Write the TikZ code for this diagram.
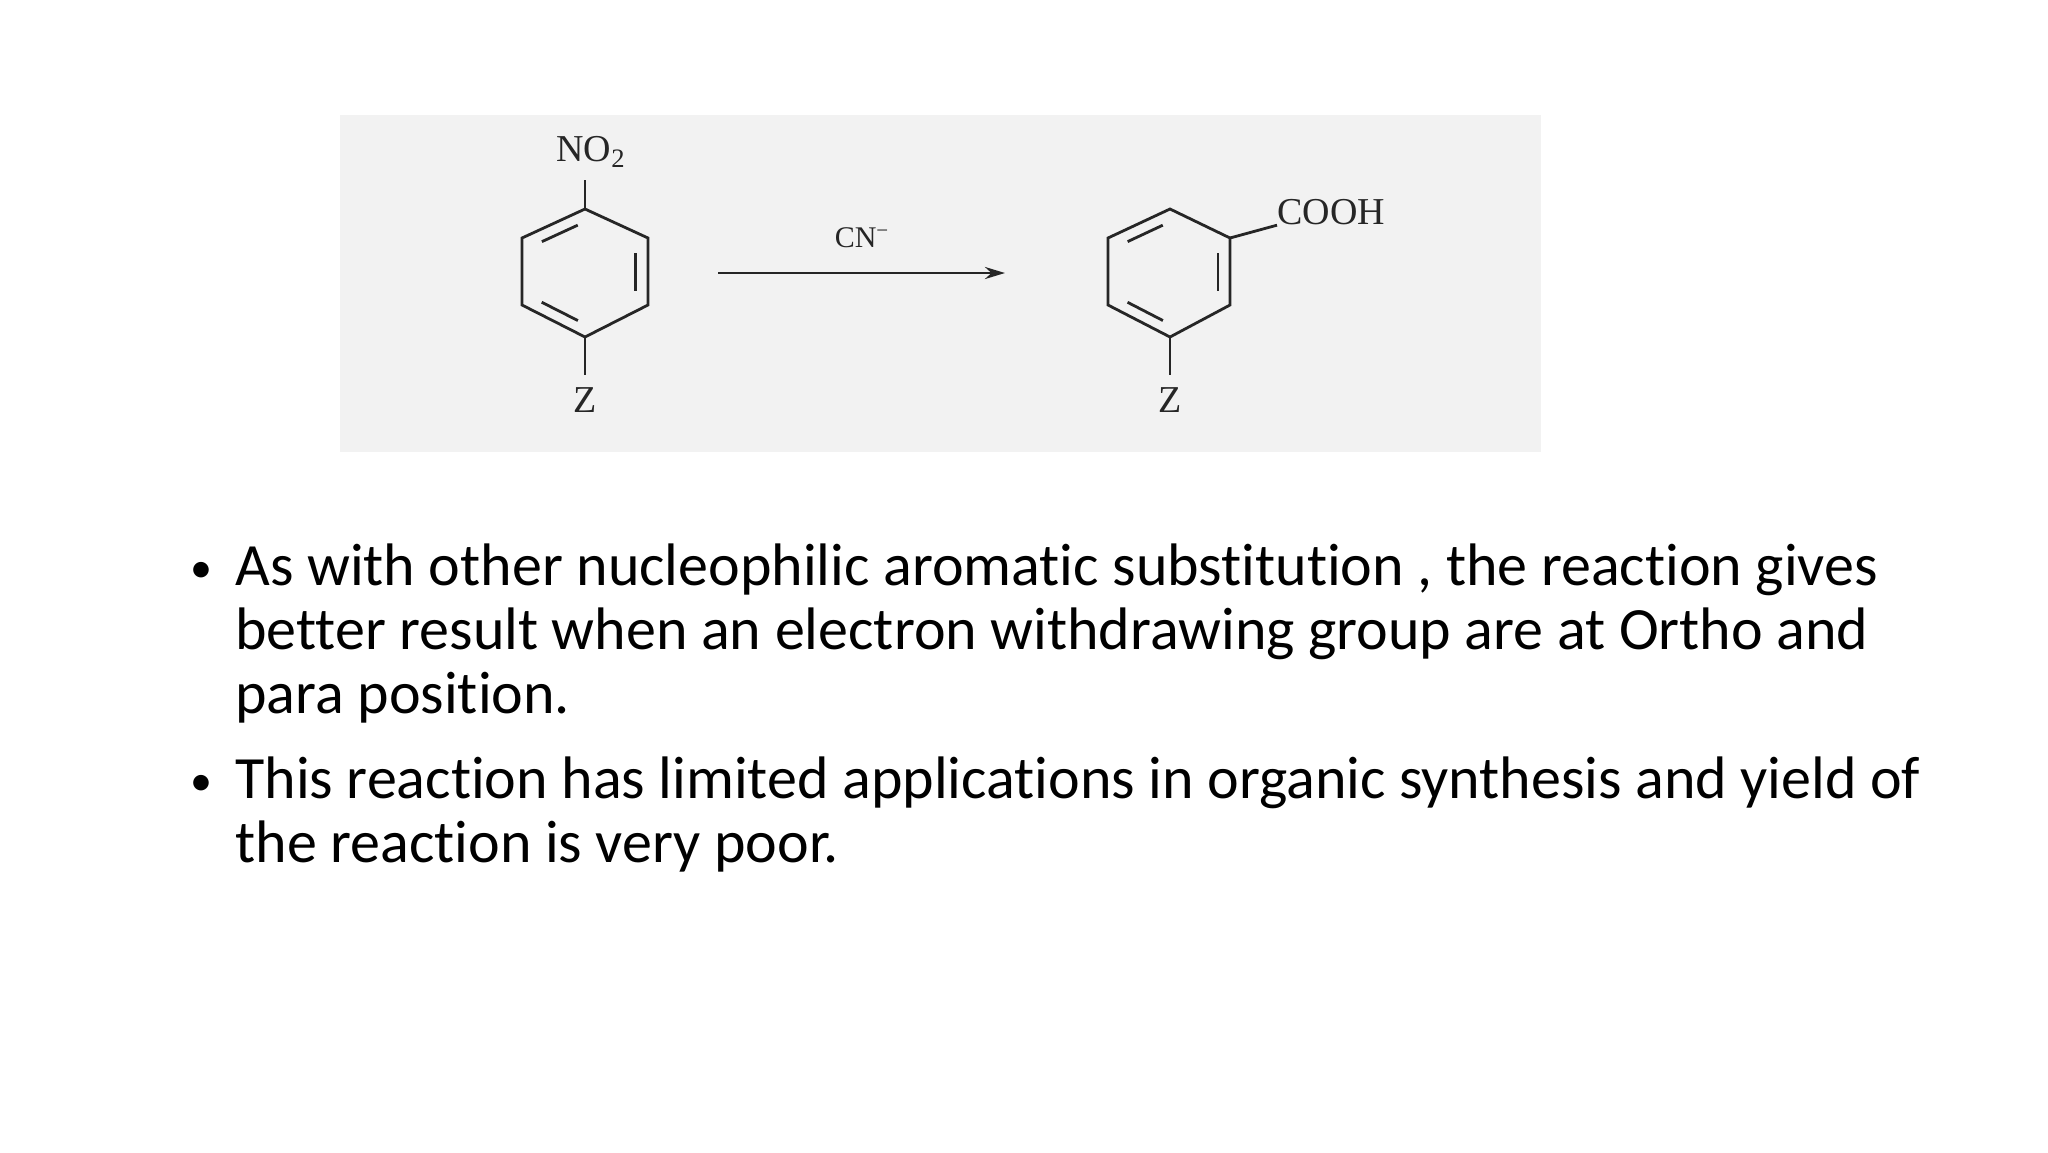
\documentclass[tikz,border=0pt]{standalone}
\usepackage{fontspec}
\setmainfont{Liberation Serif}
\newfontfamily\bodyfont[Ligatures={NoCommon}]{Carlito}
\usetikzlibrary{calc,arrows.meta}
\begin{document}
\begin{tikzpicture}[x=0.5pt,y=-0.5pt,
  bond/.style={line width=1.4pt,black!85},
  chem/.style={font=\fontsize{19}{19}\selectfont,text=black!85,inner sep=0pt},
  txt/.style={font=\bodyfont\fontsize{30}{30}\selectfont,anchor=base west,inner sep=0pt}]
\useasboundingbox[fill=white] (0,0) rectangle (2048,1152);
\fill[black!5] (340,115) rectangle (1541,452);
% left ring
\foreach \n/\x/\y in {a1/585/209,a2/648/238,a3/648/305,a4/585/337,a5/522/305,a6/522/238}{\coordinate (\n) at (\x,\y);}
\coordinate (ac) at (585,273);
\draw[bond] (a1)--(a2)--(a3)--(a4)--(a5)--(a6)--cycle;
\foreach \p/\q in {a6/a1,a2/a3,a4/a5}{
  \draw[bond,shorten <=4pt,shorten >=4pt] ($(ac)!0.8!(\p)$)--($(ac)!0.8!(\q)$);}
\coordinate (an) at (585,180);
\coordinate (az) at (585,375);
\draw[bond] (a1)--(an);
\draw[bond] (a4)--(az);
\node[chem,anchor=south] (no2) at (591,168) {NO\textsubscript{2}};
\node[chem] (z1) at (585,400) {Z};
% arrow
\coordinate (r1) at (718,273);
\coordinate (r2) at (1005,273);
\draw[bond,-{Stealth[length=10pt,width=6pt]}] (r1)--(r2);
\node[chem,font=\fontsize{15}{15}\selectfont] (cn) at (862,238) {CN\textsuperscript{−}};
% right ring
\foreach \n/\x/\y in {b1/1170/209,b2/1230/238,b3/1230/305,b4/1170/337,b5/1108/305,b6/1108/238}{\coordinate (\n) at (\x,\y);}
\coordinate (bc) at (1170,273);
\draw[bond] (b1)--(b2)--(b3)--(b4)--(b5)--(b6)--cycle;
\foreach \p/\q in {b6/b1,b2/b3,b4/b5}{
  \draw[bond,shorten <=4pt,shorten >=4pt] ($(bc)!0.8!(\p)$)--($(bc)!0.8!(\q)$);}
\coordinate (bz) at (1170,375);
\draw[bond] (b4)--(bz);
\node[chem,anchor=west] (cooh) at (1277,212) {COOH};
\draw[bond] (b2)--(cooh.south west);
\node[chem] (z2) at (1170,400) {Z};
% bullets
\node[txt] (l1) at (235,585) {As with other nucleophilic aromatic substitution , the reaction gives};
\node[txt] (l2) at (235,649) {better result when an electron withdrawing group are at Ortho and};
\node[txt] (l3) at (235,713) {para position.};
\node[txt] (l4) at (235,798) {This reaction has limited applications in organic synthesis and yield of};
\node[txt] (l5) at (235,862) {the reaction is very poor.};
\node[txt,font=\bodyfont\fontsize{22}{22}\selectfont,anchor=base east] (b1t) at (213,582) {•};
\node[txt,font=\bodyfont\fontsize{22}{22}\selectfont,anchor=base east] (b2t) at (213,795) {•};
\end{tikzpicture}
\end{document}
